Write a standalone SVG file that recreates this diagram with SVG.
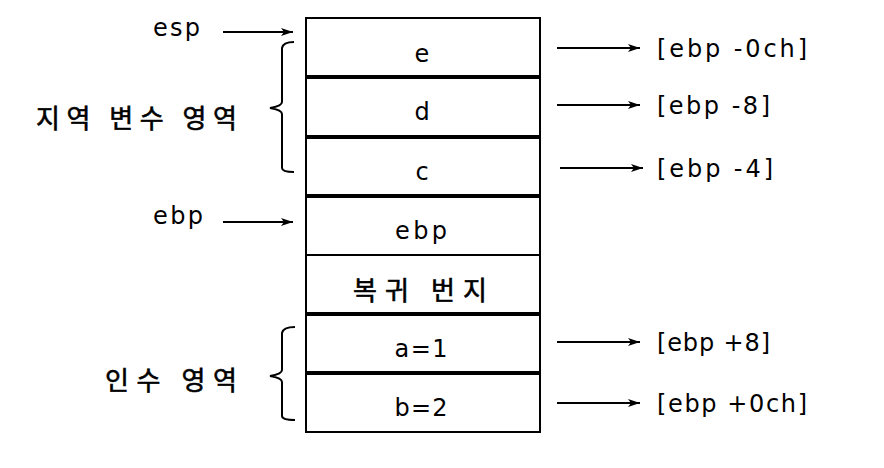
<svg xmlns="http://www.w3.org/2000/svg" width="884" height="468" viewBox="0 0 884 468">
<style>
.cell{fill:#fff;stroke:#000;stroke-width:2}
.div{stroke:#000;stroke-width:4}
.t{font-family:"DejaVu Sans","Liberation Sans",sans-serif;font-size:24px;fill:#000}
.k{font-family:"Noto Sans CJK KR","Noto Sans",sans-serif;font-size:26px;font-weight:normal;fill:#000;stroke:#000;stroke-width:0.6}
.ar{stroke:#000;stroke-width:2;fill:none;marker-end:url(#ah)}
.br{stroke:#000;stroke-width:2;fill:none}
</style>
<defs>
<marker id="ah" viewBox="0 0 12 10" refX="12" refY="5" markerWidth="12" markerHeight="10" markerUnits="userSpaceOnUse" orient="auto">
<path d="M0,1 L12,5 L0,9 L3,5 Z" fill="#000"/>
</marker>
</defs>
<g id="cell-e"><rect class="cell" x="306" y="18" width="234" height="59"/><text class="t" x="422" y="62" text-anchor="middle">e</text></g>
<g id="cell-d"><rect class="cell" x="306" y="77" width="234" height="60"/><text class="t" x="422" y="120" text-anchor="middle">d</text></g>
<g id="cell-c"><rect class="cell" x="306" y="137" width="234" height="59"/><text class="t" x="422" y="180" text-anchor="middle">c</text></g>
<g id="cell-ebp"><rect class="cell" x="306" y="196" width="234" height="59"/><text class="t" x="421" y="239" text-anchor="middle" textLength="52">ebp</text></g>
<g id="cell-ret"><rect class="cell" x="306" y="255" width="234" height="59"/><text class="k" x="420" y="300" text-anchor="middle" textLength="134">복귀 번지</text></g>
<g id="cell-a"><rect class="cell" x="306" y="314" width="234" height="59"/><text class="t" x="421" y="357" text-anchor="middle" textLength="53">a=1</text></g>
<g id="cell-b"><rect class="cell" x="306" y="373" width="234" height="59"/><text class="t" x="421" y="416" text-anchor="middle" textLength="53">b=2</text></g>
<g id="dividers">
<line class="div" x1="305" y1="77" x2="541" y2="77"/>
<line class="div" x1="305" y1="137" x2="541" y2="137"/>
<line class="div" x1="305" y1="196" x2="541" y2="196"/>
<line class="div" x1="305" y1="314" x2="541" y2="314"/>
<line class="div" x1="305" y1="373" x2="541" y2="373"/>
</g>
<g id="label-esp"><text class="t" x="153" y="36" textLength="47">esp</text></g>
<g id="label-ebp"><text class="t" x="153" y="224" textLength="50">ebp</text></g>
<g id="label-local"><text class="k" x="36" y="128" textLength="201">지역 변수 영역</text></g>
<g id="label-args"><text class="k" x="105" y="390" textLength="132">인수 영역</text></g>
<g id="label-r1"><text class="t" x="657" y="57" textLength="150">[ebp -0ch]</text></g>
<g id="label-r2"><text class="t" x="657" y="114" textLength="113">[ebp -8]</text></g>
<g id="label-r3"><text class="t" x="657" y="177" textLength="116">[ebp -4]</text></g>
<g id="label-r4"><text class="t" x="657" y="351" textLength="113">[ebp +8]</text></g>
<g id="label-r5"><text class="t" x="657" y="412" textLength="150">[ebp +0ch]</text></g>
<g id="connectors">
<line class="ar" x1="223" y1="32" x2="293" y2="32"/>
<line class="ar" x1="223" y1="222" x2="293" y2="222"/>
<line class="ar" x1="557" y1="48" x2="640" y2="48"/>
<line class="ar" x1="557" y1="105" x2="640" y2="105"/>
<line class="ar" x1="560" y1="168" x2="643" y2="168"/>
<line class="ar" x1="557" y1="342" x2="640" y2="342"/>
<line class="ar" x1="557" y1="403" x2="640" y2="403"/>
<path class="br" d="M294,42 Q283,42 282,48 L282,102 Q282,106 270,108 Q282,110 282,114 L282,168 Q282,172 294,172"/>
<path class="br" d="M295,327 Q283,327 282,333 L282,370 Q282,374 270,376 Q282,378 282,382 L282,416 Q282,420 295,420"/>
</g>
</svg>
